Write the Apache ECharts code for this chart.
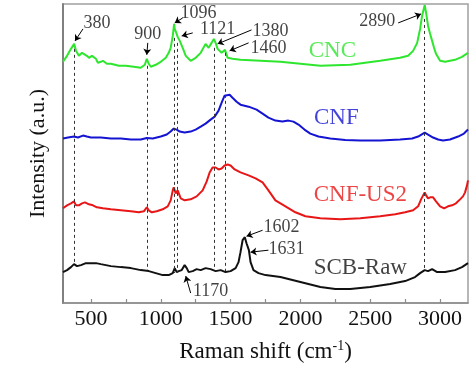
<!DOCTYPE html>
<html><head><meta charset="utf-8">
<script src="https://cdn.jsdelivr.net/npm/echarts@6/dist/echarts.min.js"></script>
<style>html,body{margin:0;padding:0;background:#fff}#c{width:474px;height:391px}</style>
</head><body><div id="c"></div>
<script>
// Raman shift (cm-1) and intensity (a.u., stacked offsets)
const cncX = [300,329,357,380,393,414,436,450,471,486,507,521,536,550,571,586,614,643,700,750,807,857,886,900,914,929,964,1000,1036,1057,1071,1086,1096,1100,1114,1121,1136,1157,1179,1214,1250,1286,1321,1343,1364,1380,1393,1407,1436,1460,1479,1514,1571,1714,1857,2000,2143,2357,2571,2714,2771,2807,2836,2857,2871,2890,2900,2914,2929,2943,2957,2971,3000,3036,3107,3157,3200];
const cncY = [242,248,255,260,253,248,251,253,248,246,248,250,245,241,242,243,240,240,238,238,237,236,239,245,240,237,239,242,246,251,256,268,280,275,270,267,263,256,248,243,246,251,260,256,261,265,261,255,251,254,246,245,244,243,242,240,238,239,243,246,248,253,261,275,288,299,291,278,270,263,256,250,243,242,244,247,251];
const cnfX = [300,336,379,407,443,471,500,571,643,714,786,857,900,943,1000,1043,1071,1093,1114,1136,1171,1214,1250,1286,1321,1357,1386,1414,1436,1457,1471,1493,1514,1543,1571,1629,1686,1729,1771,1821,1871,1914,1950,1986,2029,2071,2129,2214,2321,2429,2571,2714,2800,2843,2890,2914,2950,2986,3021,3071,3129,3171,3200];
const cnfY = [165,166,167,166,168,167,166,166,165,165,164,164,165.5,165,167,169,172,175,174,172,171,172,174,177,180,184,187,193,201,208,210,209,206,202,199,197,194,190,186,183,182,183,182,179,174,170,167,165,163.5,163,163,164,165,167,171,169,166,164,163,164,167,170,174];
const us2X = [300,329,357,379,393,414,436,457,486,514,543,586,643,714,786,843,879,900,914,936,971,1014,1050,1071,1086,1093,1100,1107,1121,1129,1143,1171,1214,1257,1300,1329,1350,1371,1393,1414,1436,1457,1479,1500,1529,1571,1629,1679,1729,1771,1821,1893,1964,2036,2143,2286,2429,2571,2679,2750,2807,2843,2864,2890,2900,2914,2929,2950,2971,3000,3029,3057,3086,3114,3143,3164,3179,3193,3200];
const us2Y = [95,98,100,102,98,98,100,101,99,98,96,95,94,93,92,91,92,96,93,91,92,94,97,103,113,116,115,110,113,111,105,103,104,107,113,122,131,136,136,134,135,138,139,138,134,131,128,125,121,113,103,97,91,87,85,84,85,87,89,91,93,97,104,111,108,105,106,106,102,97,95,97,98,100,104,107,111,118,123];
const scbX = [300,329,357,379,400,429,464,500,536,571,607,643,714,786,857,914,964,1014,1057,1086,1100,1114,1129,1150,1171,1186,1200,1229,1257,1286,1321,1357,1393,1429,1464,1500,1536,1557,1571,1586,1602,1614,1631,1643,1664,1700,1750,1857,2000,2143,2250,2357,2500,2643,2750,2821,2857,2890,2914,2943,2979,3036,3107,3157,3200];
const scbY = [31,33,36,39,37,38,40,40,40,39,38,37,36,35,33,32,30,28,28,30,35,31,32,33,38,35,31,32,34,33,35,34,32,33,31,32,35,41,51,63,66,60,53,41,33,30,28,26,21,16,14,14,16,19,22,26,30,33,32,34,31,31,33,36,40];

// band positions marked by dashed guides: [shift, top, bottom]
const bandX = [380,900,1096,1121,1380,1460,2890];
const bandTop = [255,238,266,261,256,251,285];
const bandBottom = [39,33,30,31,34,32,33];

// peak annotations: text, text position, arrow from, arrow to
const annoText = ['380','900','1096','1121','1380','1460','2890','1602','1631','1170'];
const annoX = [543,907,1271,1407,1786,1771,2550,1864,1900,1357];
const annoY = [281,270,291,275,273,256,283,76,54,12];
const arrowFrom = [[443,275],[907,261],[1157,286],[1229,271],[1650,274],[1629,261],[2700,281],[1729,73],[1771,53],[1214,10]];
const arrowTo = [[386,263],[900,249],[1100,281],[1150,268],[1407,260],[1493,253],[2864,290],[1614,67],[1643,51],[1179,27]];

// curve names
const curveNames = ['CNC','CNF','CNF-US2','SCB-Raw'];
const curveLabelX = [2229,2257,2429,2429];
const curveLabelY = [253,186,108,35];
const curveColors = ['#2ee62e','#1414d2','#e81616','#111111'];

const xTicks = [500,750,1000,1250,1500,1750,2000,2250,2500,2750,3000];
const xLabels = [500,1000,1500,2000,2500,3000];

const serif = "'Liberation Serif','DejaVu Serif',serif";
const zip = (a,b) => a.map((v,i)=>[v,b[i]]);

const chart = echarts.init(document.getElementById('c'), null, {renderer:'canvas'});
const lineSeries = [[cncX,cncY],[cnfX,cnfY],[us2X,us2Y],[scbX,scbY]].map((d,i)=>({
  type:'line', name:curveNames[i], data:zip(d[0],d[1]), showSymbol:false, symbol:'none',
  lineStyle:{color:curveColors[i], width:2}, z:3, animation:false
}));
lineSeries[3].markLine = {
  silent:true, symbol:['none','none'], animation:false, label:{show:false},
  lineStyle:{type:[3,3], color:'#333', width:1},
  data: bandX.map((x,i)=>[{coord:[x,bandTop[i]]},{coord:[x,bandBottom[i]]}])
};
lineSeries[2].markLine = {
  silent:true, symbol:['none','arrow'], symbolSize:6, animation:false, label:{show:false},
  lineStyle:{type:'solid', color:'#000', width:1},
  data: arrowFrom.map((p,i)=>[{coord:p},{coord:arrowTo[i]}])
};

const option = {
  backgroundColor:'#fff',
  animation:false,
  grid:{left:63, right:6, top:4, bottom:88, show:true, borderColor:'#a0a0a0', borderWidth:1.5},
  xAxis:{
    type:'value', min:300, max:3200,
    name:'Raman shift (cm{sup|-1})', nameLocation:'middle', nameGap:36,
    nameTextStyle:{fontFamily:serif, fontSize:23, color:'#111',
      rich:{sup:{fontFamily:serif, fontSize:14, color:'#111', verticalAlign:'top', padding:[0,0,12,0]}}},
    axisLine:{show:true, lineStyle:{color:'#8c8c8c', width:1.5}},
    axisTick:{show:true, inside:true, length:4, customValues:xTicks, lineStyle:{color:'#8c8c8c', width:1.2}},
    axisLabel:{customValues:xLabels, formatter:v=>String(v), fontFamily:serif, fontSize:22, color:'#111', margin:5},
    splitLine:{show:false}
  },
  yAxis:{
    type:'value', min:0, max:300,
    name:'Intensity (a.u.)', nameLocation:'middle', nameGap:14, nameRotate:90,
    nameTextStyle:{fontFamily:serif, fontSize:22, color:'#111'},
    axisLine:{show:true, lineStyle:{color:'#808080', width:2}},
    axisTick:{show:false}, axisLabel:{show:false}, splitLine:{show:false}
  },
  series:[
    ...lineSeries,
    {
      type:'scatter', symbolSize:1, itemStyle:{color:'rgba(0,0,0,0)'}, silent:true, z:5,
      data: annoText.map((t,i)=>({value:[annoX[i],annoY[i]], name:t})),
      label:{show:true, position:'inside', formatter:p=>p.name, fontFamily:serif, fontSize:18, color:'#111'}
    },
    {
      type:'scatter', symbolSize:1, itemStyle:{color:'rgba(0,0,0,0)'}, silent:true, z:5,
      data: curveNames.map((t,i)=>({value:[curveLabelX[i],curveLabelY[i]], name:t,
        label:{color:curveColors[i]}})),
      label:{show:true, position:'inside', formatter:p=>p.name, fontFamily:serif, fontSize:23}
    }
  ]
};
chart.setOption(option);
</script>
</body></html>
